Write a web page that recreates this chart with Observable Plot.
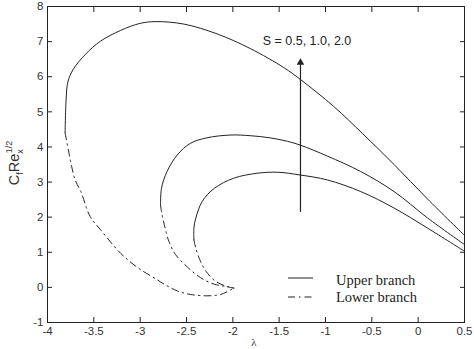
<!DOCTYPE html>
<html><head><meta charset="utf-8">
<script src="https://cdn.jsdelivr.net/npm/d3@7"></script>
<script src="https://cdn.jsdelivr.net/npm/@observablehq/plot@0.6"></script>
<style>body{margin:0;background:#fff}</style>
</head><body><div id="chart"></div>
<script>
// tick values
const xTicks = [-4, -3.5, -3, -2.5, -2, -1.5, -1, -0.5, 0, 0.5];
const yTicks = [-1, 0, 1, 2, 3, 4, 5, 6, 7, 8];

// [lambda, Cf Re^1/2] pairs
const S2_upper = [[-3.81,4.40],[-3.80,5.30],[-3.78,5.85],[-3.72,6.22],[-3.59,6.64],[-3.43,7.01],[-3.21,7.32],[-3.00,7.52],[-2.83,7.57],[-2.53,7.50],[-2.17,7.22],[-1.81,6.80],[-1.45,6.26],[-1.27,5.92],[-0.91,5.15],[-0.60,4.38],[-0.26,3.50],[0.10,2.52],[0.50,1.48]];
const S2_lower = [[-3.81,4.40],[-3.77,3.85],[-3.74,3.45],[-3.70,3.05],[-3.64,2.73],[-3.54,2.02],[-3.43,1.65],[-3.21,0.97],[-3.02,0.55],[-2.83,0.24],[-2.74,0.09],[-2.60,-0.10],[-2.46,-0.20],[-2.28,-0.24],[-2.13,-0.20],[-1.99,-0.02]];
const S1_upper = [[-2.78,2.35],[-2.77,2.82],[-2.71,3.30],[-2.60,3.77],[-2.46,4.10],[-2.28,4.26],[-2.02,4.34],[-1.81,4.32],[-1.60,4.26],[-1.41,4.16],[-1.27,4.05],[-0.98,3.74],[-0.62,3.30],[-0.26,2.73],[0.10,1.98],[0.50,1.22]];
const S1_lower = [[-2.78,2.35],[-2.77,2.16],[-2.74,1.79],[-2.69,1.31],[-2.62,0.94],[-2.49,0.58],[-2.35,0.28],[-2.20,0.09],[-2.06,0.02],[-1.99,-0.02]];
const S05_upper = [[-2.42,1.35],[-2.42,1.69],[-2.40,1.97],[-2.33,2.45],[-2.20,2.82],[-1.99,3.11],[-1.74,3.25],[-1.52,3.28],[-1.27,3.20],[-0.98,3.06],[-0.62,2.73],[-0.26,2.26],[0.10,1.69],[0.50,1.03]];
const S05_lower = [[-2.42,1.35],[-2.40,1.12],[-2.35,0.75],[-2.29,0.46],[-2.19,0.18],[-2.08,0.04],[-1.99,-0.02]];

// annotation
const annotText = "S = 0.5, 1.0, 2.0";
const annotX = -1.20, annotY = 7.02;
const arrowX = -1.27, arrowFrom = 2.15, arrowTo = 6.52;

const rows = [];
function add(pairs, S, branch) { pairs.forEach(([x, y]) => rows.push({S, branch, x, y})); }
add(S2_upper, "2.0", "upper"); add(S2_lower, "2.0", "lower");
add(S1_upper, "1.0", "upper"); add(S1_lower, "1.0", "lower");
add(S05_upper, "0.5", "upper"); add(S05_lower, "0.5", "lower");

const ink = "#222";
const dashDot = "7,4,1.5,4";
const fmt = d => String(d);

const chart = Plot.plot({
  width: 474, height: 349,
  marginLeft: 47, marginRight: 10, marginTop: 6, marginBottom: 27,
  x: {domain: [-4, 0.5]},
  y: {domain: [-1, 8]},
  style: {fontFamily: "'Liberation Sans', Arial, sans-serif", fontSize: "11.5px", color: "#333", background: "#fff"},
  marks: [
    Plot.line(rows.filter(d => d.branch === "upper"), {x: "x", y: "y", z: "S", curve: "catmull-rom", stroke: ink, strokeWidth: 1}),
    Plot.line(rows.filter(d => d.branch === "lower"), {x: "x", y: "y", z: "S", curve: "catmull-rom", stroke: ink, strokeWidth: 1, strokeDasharray: dashDot}),
    Plot.link([0], {x1: () => arrowX, x2: () => arrowX, y1: () => arrowFrom, y2: () => arrowTo - 0.1, stroke: ink, strokeWidth: 1.2}),
    Plot.dot([0], {x: () => arrowX, y: () => arrowTo, symbol: "triangle", r: 2.8, fill: ink, stroke: "none", dy: 4.2}),
    Plot.text([annotText], {x: () => annotX, y: () => annotY, text: d => d, fontSize: 12.5, fill: "#222"}),
    Plot.axisX(xTicks, {anchor: "bottom", tickSize: -5, tickPadding: 9, label: null, tickFormat: fmt, stroke: ink}),
    Plot.axisX(xTicks, {anchor: "top", tickSize: -5, tickFormat: () => "", label: null, stroke: ink}),
    Plot.axisY(yTicks, {anchor: "left", tickSize: -5, tickPadding: 9, label: null, tickFormat: fmt, stroke: ink}),
    Plot.axisY(yTicks, {anchor: "right", tickSize: -5, tickFormat: () => "", label: null, stroke: ink}),
    Plot.frame({stroke: ink, strokeWidth: 1})
  ]
});

const svg = d3.select(chart);
// x label
svg.append("text").attr("x", 254).attr("y", 346).attr("text-anchor", "middle")
  .attr("font-family", "'Liberation Serif', 'Times New Roman', serif").attr("font-size", 11).attr("fill", "#333").text("λ");
// y label  C_f Re_x^{1/2}
const yl = svg.append("text").attr("transform", "translate(19,163) rotate(-90)").attr("text-anchor", "middle")
  .attr("font-family", "'Liberation Sans', Arial, sans-serif").attr("font-size", 14.5).attr("fill", "#333");
yl.append("tspan").text("C");
yl.append("tspan").attr("font-size", 9).attr("dy", 4).text("f");
yl.append("tspan").attr("dy", -4).text("Re");
yl.append("tspan").attr("font-size", 9).attr("dy", 4).text("x");
yl.append("tspan").attr("font-size", 9).attr("dx", -4).attr("dy", -11).text("1/2");

// legend
const lg = svg.append("g").attr("font-family", "'Liberation Serif', 'Times New Roman', serif").attr("font-size", 14.5).attr("fill", "#222").attr("text-anchor", "start");
lg.append("line").attr("x1", 288).attr("x2", 313).attr("y1", 278).attr("y2", 278).attr("stroke", ink);
lg.append("line").attr("x1", 288).attr("x2", 314).attr("y1", 297).attr("y2", 297).attr("stroke", ink).attr("stroke-dasharray", dashDot);
lg.append("text").attr("x", 336).attr("y", 280).attr("dy", "0.32em").text("Upper branch");
lg.append("text").attr("x", 336).attr("y", 297).attr("dy", "0.32em").text("Lower branch");

document.getElementById("chart").appendChild(chart);
</script>
</body></html>
